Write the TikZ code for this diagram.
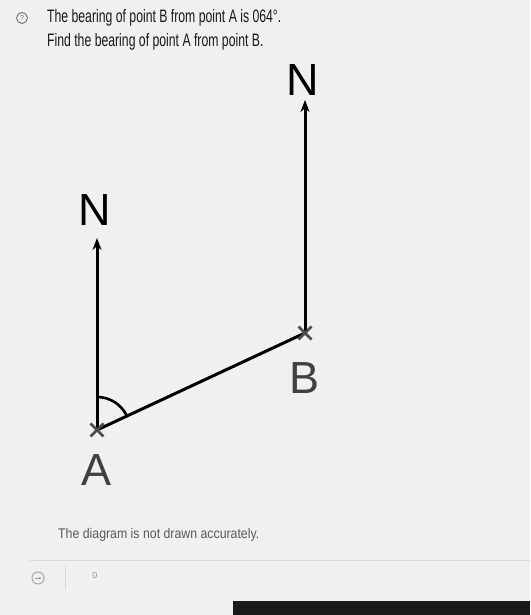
\documentclass[tikz,border=0pt]{standalone}
\usepackage{fontspec}
\setmainfont{Liberation Sans}
\usetikzlibrary{arrows.meta,positioning}

\tikzset{
  northline/.style = {line width=3pt, -{Stealth[length=12pt,width=9pt]}},
  bigletter/.style = {font=\fontsize{45}{45}\selectfont, inner sep=0pt},
  qtext/.style = {font=\fontsize{18}{18}\selectfont, xscale=0.68, anchor=west, inner sep=0pt, text=black!90},
  crossmark/.style = {line width=2.6pt, black!70}
}

\begin{document}
\begin{tikzpicture}[x=1pt, y=1pt]
    \fill[gray!12] (0,0) rectangle (530,615);
    \useasboundingbox (0,0) rectangle (530,615);
    % question
    \draw[black!60, line width=0.8pt] (22,597) circle (5.5);
    \node[font=\fontsize{7}{7}\selectfont, text=black!60] (qmark) at (22,597) {?};
    \node[qtext] (line1) at (47,597) {The bearing of point B from point A is 064\textdegree.};
    \node[qtext] (line2) at (47,573) {Find the bearing of point A from point B.};
    % points
    \coordinate (A) at (97,185);
    \coordinate (B) at (305,282);
    \coordinate (NA) at (97,377);
    \coordinate (NB) at (305,515);
    \draw[northline] (A) -- (NA);
    \draw[northline] (B) -- (NB);
    \draw[line width=3pt] (A) -- (B);
    \draw[line width=2.6pt] ([shift={(90:33)}]A) arc (90:24.8:33);
    \foreach \p in {A,B} {
      \draw[crossmark] ([shift={(-6.5,-6.5)}]\p) -- ([shift={(6.5,6.5)}]\p)
                       ([shift={(-6.5,6.5)}]\p) -- ([shift={(6.5,-6.5)}]\p);
    }
    % labels
    \node[bigletter] (labNA) at (95,405) {N};
    \node[bigletter] (labNB) at (303,535) {N};
    \node[bigletter, text=black!75] (labB) at (305,237) {B};
    \node[bigletter, text=black!75] (labA) at (97,145) {A};
    % note
    \node[font=\fontsize{14}{14}\selectfont, xscale=0.88, anchor=west, inner sep=0pt, text=black!65] (note) at (58,80) {The diagram is not drawn accurately.};
    \draw[black!15, line width=0.8pt] (30,55) -- (530,55);
    \draw[black!40, line width=0.8pt] (38,37) circle (6);
    \draw[black!40, line width=0.7pt, -{Stealth[length=3pt]}] (35,37) -- (41.5,37);
    \draw[black!15, line width=0.8pt] (65,25) -- (65,50);
    \node[font=\fontsize{9}{9}\selectfont, text=black!40] (zero) at (95,40) {0};
    \fill[black!90] (233,0) rectangle (530,14);
\end{tikzpicture}
\end{document}
